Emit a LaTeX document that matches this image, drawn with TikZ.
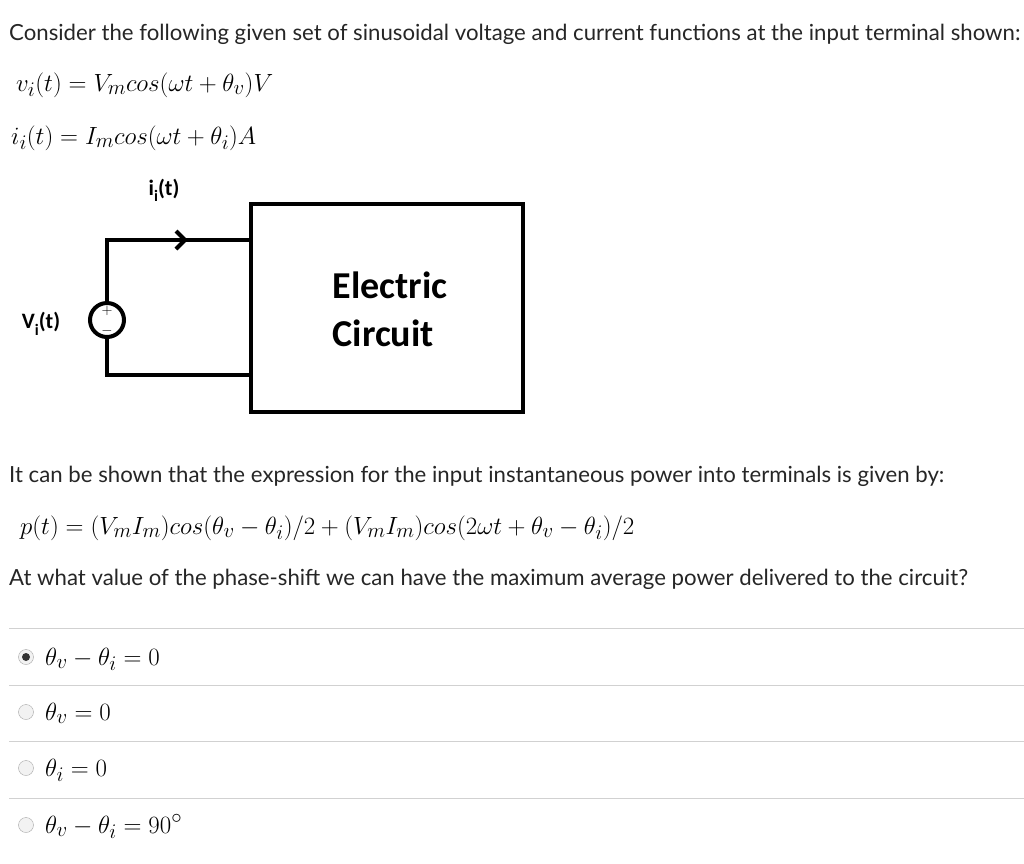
\documentclass[tikz,border=0pt]{standalone}
\usepackage{fontspec}
\setmainfont{Lato}
\newfontfamily\calib{Carlito}
\usetikzlibrary{arrows.meta}
\begin{document}
\begin{tikzpicture}[x=1pt,y=-1pt,
  txt/.style={anchor=base west,inner sep=0pt,font=\fontsize{22.2}{26}\selectfont,text=black!85},
  eq/.style={anchor=base west,inner sep=0pt,font=\fontsize{28.6}{32}\selectfont},
  wire/.style={line width=4pt},
  lab/.style={inner sep=0pt,font=\calib\bfseries\fontsize{22}{24}\selectfont},
  sep/.style={draw=black!18,line width=1pt},
  radio/.style={circle,draw=black!35,fill=black!5,minimum size=15pt,inner sep=0pt}]
\useasboundingbox[fill=white] (0,0) rectangle (1024,863);
\node[txt] (t1) at (9,40) {Consider the following given set of sinusoidal voltage and current functions at the input terminal shown:};
\node[eq] (e1) at (16,91) {$v_i(t)=V_m cos(\omega t+\theta_v)V$};
\node[eq] (e2) at (11,144) {$i_i(t)=I_m cos(\omega t+\theta_i)A$};
% circuit
\node[draw,line width=4pt,minimum width=272pt,minimum height=208pt,inner sep=0pt] (box) at (387,308) {};
\node[lab,font=\calib\bfseries\fontsize{38}{46}\selectfont,align=left] (bt) at (390,309) {Electric\\[2pt]Circuit};
\node[circle,draw,line width=4pt,minimum size=34pt,inner sep=0pt] (src) at (107,320) {};
\node[font=\fontsize{15}{15}\selectfont,inner sep=0pt] (pl) at (107,310.5) {$+$};
\node[font=\fontsize{15}{15}\selectfont,inner sep=0pt] (mi) at (107,330.5) {$-$};
\coordinate (tl) at (107,240);
\coordinate (bl) at (107,375);
\draw[wire] (src.north) -- (tl) -- (tl -| box.west);
\draw[wire] (src.south) -- (bl) -- (bl -| box.west);
\coordinate (ar) at (185,240);
\draw[line width=4pt] ([xshift=-9pt,yshift=-9pt]ar) -- (ar) -- ([xshift=-9pt,yshift=9pt]ar);
\node[lab] (il) at (164,190) {i\raisebox{-6pt}{\fontsize{16}{16}\selectfont i}(t)};
\node[lab] (vl) at (41,324) {V\raisebox{-7pt}{\fontsize{16}{16}\selectfont i}(t)};
\node[txt] (t2) at (9,482) {It can be shown that the expression for the input instantaneous power into terminals is given by:};
\node[eq] (e3) at (20,534) {$p(t)=(V_mI_m)cos(\theta_v-\theta_i)/2+(V_mI_m)cos(2\omega t+\theta_v-\theta_i)/2$};
\node[txt] (t3) at (9,585) {At what value of the phase-shift we can have the maximum average power delivered to the circuit?};
\draw[sep] (9,628) -- (1024,628);
\draw[sep] (9,685) -- (1024,685);
\draw[sep] (9,741) -- (1024,741);
\draw[sep] (9,798) -- (1024,798);
\node[radio] (r1) at (26,657) {};
\fill[black!80] (r1) circle (4pt);
\node[radio] (r2) at (26,712) {};
\node[radio] (r3) at (26,768) {};
\node[radio] (r4) at (26,825) {};
\node[eq] (o1) at (45,665) {$\theta_v-\theta_i=0$};
\node[eq] (o2) at (45,720) {$\theta_v=0$};
\node[eq] (o3) at (45,776) {$\theta_i=0$};
\node[eq] (o4) at (45,833) {$\theta_v-\theta_i=90^\circ$};
\end{tikzpicture}
\end{document}
